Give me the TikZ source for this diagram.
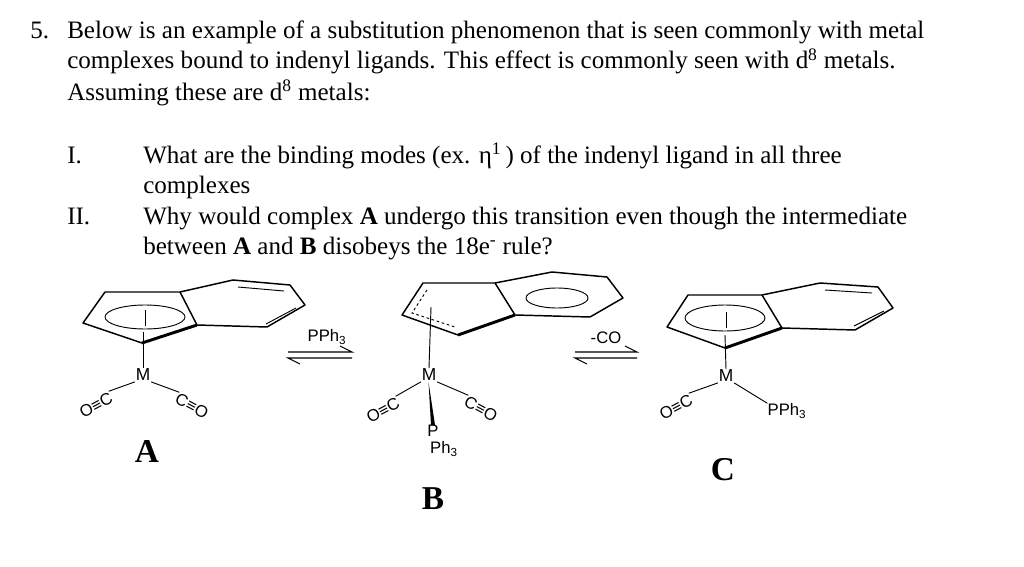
\documentclass[tikz,border=0pt]{standalone}
\usepackage{fontspec}
\usetikzlibrary{calc}
\setmainfont{Liberation Serif}
\newfontfamily\chem{Liberation Sans}
\begin{document}
\begin{tikzpicture}[x=0.75pt,y=-0.75pt,
  txt/.style={anchor=base west,inner sep=0pt,font=\fontsize{18.8}{20}\selectfont},
  lab/.style={inner sep=0pt,font=\chem\fontsize{12.5}{13}\selectfont},
  metal/.style={inner sep=0.5pt,font=\chem\fontsize{13}{14}\selectfont},
  cmpd/.style={font=\bfseries\fontsize{25}{28}\selectfont,inner sep=0pt},
  bond/.style={line width=0.7pt},
  ring/.style={line width=1.1pt,line join=round},
  hk/.style={line width=0.8pt}]
\useasboundingbox (0,0) rectangle (1024,567);
% question text
\node[txt] (n5) at (30,39) {5.};
\node[txt] (l1) at (67,39) {Below is an example of a substitution phenomenon that is seen commonly with metal};
\node[txt] (l2) at (67,69) {complexes bound to indenyl ligands. This effect is commonly seen with d\textsuperscript{8} metals.};
\node[txt] (l3) at (67,100) {Assuming these are d\textsuperscript{8} metals:};
\node[txt] (r1) at (67,163) {I.};
\node[txt] (q1) at (143,163) {What are the binding modes (ex. η\textsuperscript{1}\,) of the indenyl ligand in all three};
\node[txt] (q1b) at (143,193) {complexes};
\node[txt] (r2) at (67,224) {II.};
\node[txt] (q2) at (143,224) {Why would complex \textbf{A} undergo this transition even though the intermediate};
\node[txt] (q2b) at (143,254) {between \textbf{A} and \textbf{B} disobeys the 18e\textsuperscript{-} rule?};

% ---------- A ----------
\draw[ring] (142,343) -- (83,323) -- (105,292) -- (180,292);
\draw[ring] (180,292) -- (233,280) -- (290,285) -- (305,305) -- (267,327) -- (197,325);
\draw[ring] (180,292) -- (197,325);
\draw[line width=2.2pt,line join=round] (197,325) -- (142,343);
\draw[bond] (238,287) -- (284,291);
\draw[bond] (296,308) -- (266,324);
\draw[bond] (145,317) ellipse (40 and 12);
\node[metal] (MA) at (143,375) {M};
\draw[bond] (145,310) -- (145,326);
\draw[bond] (143,332) -- (MA.north);
\node[lab,rotate=28] (CA1) at (96,405) {O≡C};
\node[lab,rotate=-28] (CA2) at (192,406) {C≡O};
\draw[bond] (MA.south west) -- (CA1.north east);
\draw[bond] (MA.south east) -- (CA2.north west);
\node[cmpd] (A) at (147,451) {A};

% arrow 1
\coordinate (a1s) at (288,352); \coordinate (a1e) at (352,352);
\coordinate (a1t) at (340,346);
\coordinate (b1s) at (352,358); \coordinate (b1e) at (288,358);
\coordinate (b1t) at (300,364);
\draw[hk] (a1s) -- (a1e) -- (a1t);
\draw[hk] (b1s) -- (b1e) -- (b1t);
\node[lab] (pph) at (327,337) {PPh\textsubscript{3}};

% ---------- B ----------
\draw[ring] (458,335) -- (402,315) -- (423,283) -- (495,283) -- (515,315);
\draw[line width=2.2pt,line join=round] (515,315) -- (458,335);
\draw[ring] (495,283) -- (552,272) -- (607,277) -- (623,298) -- (590,317) -- (515,315);
\draw[bond] (557,298) ellipse (31 and 10);
\draw[bond,dashed,dash pattern=on 2pt off 2pt] (427,290) -- (412,313) -- (455,327);
\node[metal] (MB) at (429,375) {M};
\draw[bond] (431,307) -- (MB.north);
\node[lab,rotate=28] (CB1) at (383,410) {O≡C};
\node[lab,rotate=-28] (CB2) at (481,409) {C≡O};
\draw[bond] (MB.south west) -- (CB1.north east);
\draw[bond] (MB.south east) -- (CB2.north west);
\node[lab] (PB) at (433,431) {P};
\node[lab] (PhB) at (444,449) {Ph\textsubscript{3}};
\fill ($(MB.south)+(-0.5,0)$) -- ($(PB.north)+(-2,0)$) -- ($(PB.north)+(2,0)$) -- cycle;
\node[cmpd] (B) at (433,499) {B};

% arrow 2
\coordinate (a2s) at (575,352); \coordinate (a2e) at (637,352);
\coordinate (a2t) at (625,346);
\coordinate (b2s) at (637,358); \coordinate (b2e) at (575,358);
\coordinate (b2t) at (587,364);
\draw[hk] (a2s) -- (a2e) -- (a2t);
\draw[hk] (b2s) -- (b2e) -- (b2t);
\node[lab] (mco) at (606,338) {-CO};

% ---------- C ----------
\draw[ring] (725,348) -- (667,327) -- (688,295) -- (762,295);
\draw[ring] (762,295) -- (820,283) -- (878,287) -- (893,308) -- (855,330) -- (782,328);
\draw[ring] (762,295) -- (782,328);
\draw[line width=2.2pt,line join=round] (782,328) -- (725,348);
\draw[bond] (825,290) -- (872,293);
\draw[bond] (884,311) -- (854,326);
\draw[bond] (725,318) ellipse (40 and 13);
\node[metal] (MC) at (726,376) {M};
\draw[bond] (726,312) -- (726,328);
\draw[bond] (725,335) -- (MC.north);
\node[lab,rotate=28] (CC1) at (676,407) {O≡C};
\node[lab] (PC) at (787,411) {PPh\textsubscript{3}};
\draw[bond] (MC.south west) -- (CC1.north east);
\draw[bond] (MC.south east) -- (PC.north west);
\node[cmpd] (C) at (723,470) {C};
\end{tikzpicture}
\end{document}
